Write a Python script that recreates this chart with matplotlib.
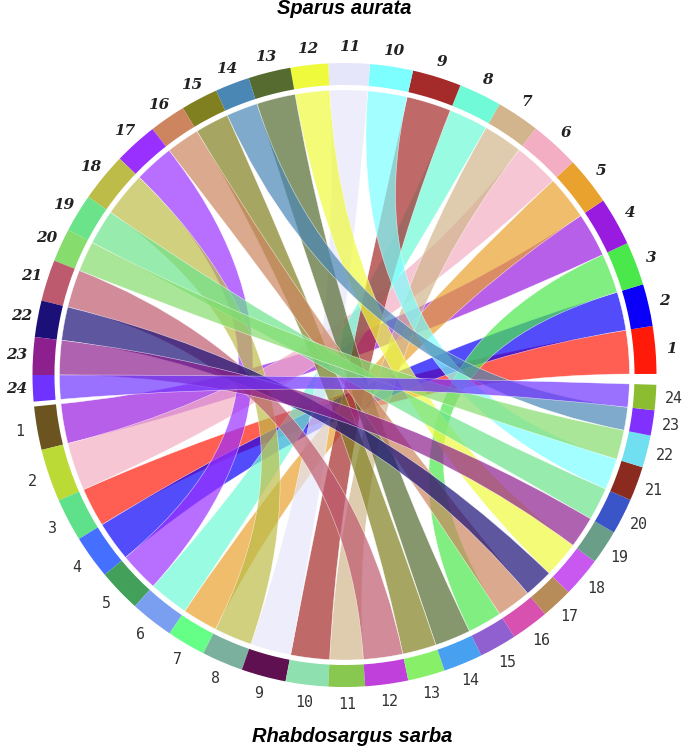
import numpy as np
import matplotlib.pyplot as plt
from matplotlib.path import Path
from matplotlib.patches import PathPatch, Wedge

# chromosome sizes (relative)
sa_size = [8.85, 7.85, 8.1, 9.0, 9.0, 9.2, 8.0, 8.0, 9.1, 8.0, 7.7, 7.0,
           7.9, 6.4, 6.9, 6.8, 8.1, 9.1, 7.1, 6.2, 7.7, 6.8, 7.0, 4.9]
rs_size = [8.1, 9.8, 8.0, 8.1, 8.0, 8.1, 7.2, 7.7, 8.3, 7.9, 6.8, 8.0,
           6.9, 7.3, 7.0, 7.0, 5.9, 7.4, 6.4, 6.7, 6.4, 6.0, 4.7, 4.7]

sa_colors = ['#ff1a0a', '#0a00fa', '#4be84b', '#9a1be0', '#e9a22d', '#f3aec4',
             '#d2b58c', '#70fad8', '#a52a2a', '#7dffff', '#e6e6fa', '#f0fa3c',
             '#556b2f', '#4a87b5', '#808020', '#cd855f', '#9a30ff', '#bdbc48',
             '#6be38a', '#86dc6c', '#be5a6e', '#1a1078', '#8e1f8e', '#7033ff']
rs_colors = ['#6b5420', '#bbda35', '#5fe08a', '#4570ff', '#42a05a', '#7b9ff0',
             '#65ff88', '#7bb09e', '#5e1050', '#8ee0ae', '#88c850', '#c040dc',
             '#88f068', '#48a0f0', '#9060d0', '#d850b0', '#b88c58', '#c858f0',
             '#6a9e88', '#3a55c8', '#8b2a1e', '#70e0f0', '#8030ff', '#8cbc30']

# Sparus aurata chromosome i -> Rhabdosargus sarba chromosome
sa_to_rs = [3, 4, 15, 1, 7, 2, 11, 6, 10, 21, 9, 18,
            14, 23, 13, 16, 5, 8, 20, 22, 12, 17, 19, 24]

cx, cy = 344.5, 375
r_out, r_in, r_chord = 312, 290, 285
start, gap = 0.2, 0.9

fig = plt.figure(figsize=(6.85, 7.5), dpi=100)
ax = fig.add_axes([0, 0, 1, 1])
ax.set_xlim(0, 685)
ax.set_ylim(0, 750)
ax.axis('off')

def bounds(sizes, a0):
    edges = a0 + np.concatenate([[0], np.cumsum(sizes)])
    return edges[:-1], edges[1:]

sa0, sa1 = bounds(sa_size, start)
rs0, rs1 = bounds(rs_size, sa1[-1] + gap)

def arc(a, b, r, n=40):
    t = np.radians(np.linspace(a, b, n))
    return np.column_stack([cx + r * np.cos(t), cy + r * np.sin(t)])

# chords
for i, j in enumerate(sa_to_rs):
    A = arc(sa0[i], sa1[i], r_chord)
    B = arc(rs0[j - 1], rs1[j - 1], r_chord)
    verts = list(A) + [(cx, cy), B[0]] + list(B[1:]) + [(cx, cy), A[0], A[0]]
    codes = ([Path.MOVETO] + [Path.LINETO] * (len(A) - 1) + [Path.CURVE3] * 2
             + [Path.LINETO] * (len(B) - 1) + [Path.CURVE3] * 2 + [Path.CLOSEPOLY])
    ax.add_patch(PathPatch(Path(verts, codes), facecolor=sa_colors[i], alpha=0.7,
                           edgecolor='white', lw=0.4))

# ring + labels
for k in range(24):
    ax.add_patch(Wedge((cx, cy), r_out, sa0[k], sa1[k], width=r_out - r_in,
                       facecolor=sa_colors[k], edgecolor='none'))
    ax.add_patch(Wedge((cx, cy), r_out, rs0[k], rs1[k], width=r_out - r_in,
                       facecolor=rs_colors[k], edgecolor='none'))
    m = np.radians((sa0[k] + sa1[k]) / 2)
    ax.text(cx + 328 * np.cos(m), cy + 328 * np.sin(m), str(k + 1),
            ha='center', va='center', fontsize=11, family='DejaVu Serif',
            weight='bold', style='italic', color='#222222')
    m = np.radians((rs0[k] + rs1[k]) / 2)
    ax.text(cx + 330 * np.cos(m), cy + 330 * np.sin(m), str(k + 1),
            ha='center', va='center', fontsize=10.8, family='DejaVu Sans Mono',
            color='#333333')

ax.text(344, 736, 'Sparus aurata', ha='center', va='baseline', fontsize=14.5,
        family='Liberation Sans', weight='bold', style='italic')
ax.text(352, 8, 'Rhabdosargus sarba', ha='center', va='baseline', fontsize=14.5,
        family='Liberation Sans', weight='bold', style='italic')

plt.savefig('out.png', dpi=100)
